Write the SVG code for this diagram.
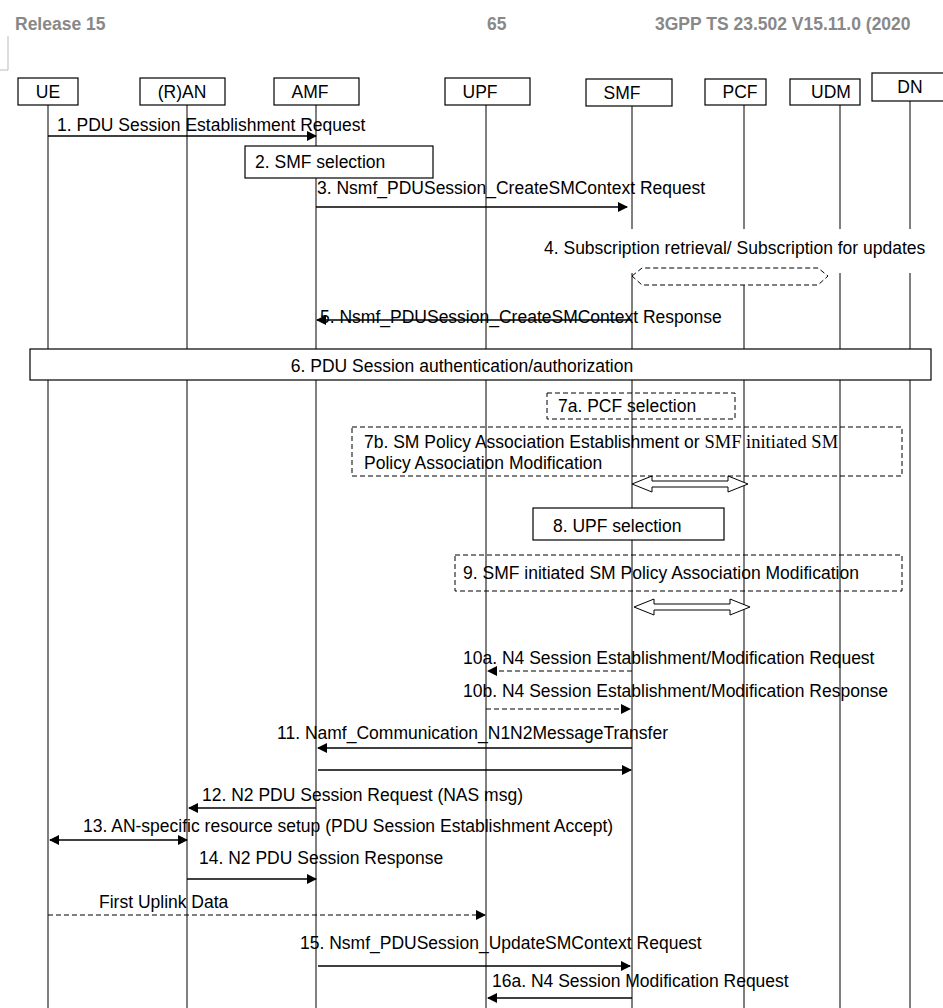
<svg xmlns="http://www.w3.org/2000/svg" width="943" height="1008" viewBox="0 0 943 1008">
<defs>
<marker id="ah" markerWidth="10" markerHeight="10" refX="9" refY="5" orient="auto-start-reverse" markerUnits="userSpaceOnUse"><path d="M0,0 L10,5 L0,10 Z" fill="#000"/></marker>
</defs>
<style>
text{font-family:"Liberation Sans",Arial,sans-serif;font-size:17.5px;fill:#000}
.hd{fill:#888;font-weight:bold;font-size:17.5px}
.ll{stroke:#000;stroke-width:1}
.box{fill:#fff;stroke:#000;stroke-width:1.2}
.dbox{fill:none;stroke:#000;stroke-width:1;stroke-dasharray:5,3}
.m{stroke:#000;stroke-width:1.5;fill:none;marker-end:url(#ah)}
.dm{stroke:#000;stroke-width:1.2;fill:none;stroke-dasharray:5,3;marker-end:url(#ah)}
.da{fill:#fff;stroke:#000;stroke-width:1}
</style>
<rect width="943" height="1008" fill="#fff"/>
<text class="hd" x="15" y="30">Release 15</text>
<text class="hd" x="487" y="30">65</text>
<text class="hd" x="655" y="30">3GPP TS 23.502 V15.11.0 (2020</text>
<path d="M8,36 V70 H0" stroke="#bbb" fill="none"/>
<g id="lifelines">
<line class="ll" x1="48" y1="105" x2="48" y2="1008"/>
<line class="ll" x1="187" y1="105" x2="187" y2="1008"/>
<line class="ll" x1="316" y1="105" x2="316" y2="1008"/>
<line class="ll" x1="486" y1="105" x2="486" y2="1008"/>
<line class="ll" x1="632" y1="105" x2="632" y2="229"/><line class="ll" x1="632" y1="273" x2="632" y2="1008"/>
<line class="ll" x1="744" y1="105" x2="744" y2="229"/><line class="ll" x1="744" y1="285" x2="744" y2="1008"/>
<line class="ll" x1="840" y1="105" x2="840" y2="229"/><line class="ll" x1="840" y1="273" x2="840" y2="1008"/>
<line class="ll" x1="910" y1="101" x2="910" y2="229"/><line class="ll" x1="910" y1="273" x2="910" y2="1008"/>
</g>
<g id="n-ue"><rect class="box" x="18" y="78" width="60" height="27"/><text x="48" y="98" text-anchor="middle">UE</text></g>
<g id="n-ran"><rect class="box" x="140" y="78" width="85" height="27"/><text x="182" y="98" text-anchor="middle">(R)AN</text></g>
<g id="n-amf"><rect class="box" x="274" y="78" width="85" height="27"/><text x="310" y="98" text-anchor="middle">AMF</text></g>
<g id="n-upf"><rect class="box" x="445" y="78" width="85" height="27"/><text x="480" y="98" text-anchor="middle">UPF</text></g>
<g id="n-smf"><rect class="box" x="586" y="79" width="86" height="27"/><text x="622" y="99" text-anchor="middle">SMF</text></g>
<g id="n-pcf"><rect class="box" x="705" y="79" width="61" height="26"/><text x="740" y="98" text-anchor="middle">PCF</text></g>
<g id="n-udm"><rect class="box" x="790" y="79" width="70" height="26"/><text x="831" y="98" text-anchor="middle">UDM</text></g>
<g id="n-dn"><rect class="box" x="872" y="73" width="75" height="28"/><text x="910" y="93" text-anchor="middle">DN</text></g>
<g id="connectors">
<line class="m" x1="48" y1="136" x2="316" y2="136"/>
<text x="57" y="131">1. PDU Session Establishment Request</text>
<line class="m" x1="316" y1="207" x2="627" y2="207"/>
<text x="317" y="194">3. Nsmf_PDUSession_CreateSMContext Request</text>
<text x="544" y="254">4. Subscription retrieval/ Subscription for updates</text>
<path d="M632,276 L642,268 H818 L828,276 L818,285 H642 Z" fill="#fff" stroke="#000" stroke-dasharray="5,3"/>
<line class="m" x1="632" y1="320" x2="317" y2="320"/>
<text x="320" y="323">5. Nsmf_PDUSession_CreateSMContext Response</text>
<path class="da" d="M632,484 L652,476 V481 H728 V476 L748,484 L728,492 V487 H652 V492 Z"/>
<path class="da" d="M634,607 L654,599 V604 H730 V599 L750,607 L730,615 V610 H654 V615 Z"/>
<line class="dm" x1="632" y1="671" x2="488" y2="671"/>
<text x="463" y="664">10a. N4 Session Establishment/Modification Request</text>
<line class="dm" x1="486" y1="709" x2="630" y2="709"/>
<text x="463" y="697">10b. N4 Session Establishment/Modification Response</text>
<line class="m" x1="632" y1="748" x2="318" y2="748"/>
<text x="277" y="739">11. Namf_Communication_N1N2MessageTransfer</text>
<line class="m" x1="318" y1="770" x2="631" y2="770"/>
<line class="m" x1="316" y1="808" x2="189" y2="808"/>
<text x="202" y="801">12. N2 PDU Session Request (NAS msg)</text>
<line class="m" style="marker-start:url(#ah)" x1="50" y1="840" x2="187" y2="840"/>
<text x="83" y="832">13. AN-specific resource setup (PDU Session Establishment Accept)</text>
<line class="m" x1="187" y1="879" x2="316" y2="879"/>
<text x="199" y="864">14. N2 PDU Session Response</text>
<line class="dm" x1="48" y1="915" x2="485" y2="915"/>
<text x="99" y="908">First Uplink Data</text>
<line class="m" x1="318" y1="966" x2="630" y2="966"/>
<text x="300" y="949">15. Nsmf_PDUSession_UpdateSMContext Request</text>
<line class="m" x1="632" y1="998" x2="488" y2="998"/>
<text x="492" y="987">16a. N4 Session Modification Request</text>
</g>
<g id="n-2"><rect class="box" x="245" y="146" width="188" height="32"/><text x="255" y="168">2. SMF selection</text></g>
<g id="n-6"><rect class="box" x="30" y="349" width="901" height="31"/><text x="462" y="372" text-anchor="middle">6. PDU Session authentication/authorization</text></g>
<g id="n-7a"><rect class="dbox" x="547" y="393" width="188" height="26"/><text x="558" y="412">7a. PCF selection</text></g>
<g id="n-7b"><rect class="dbox" x="352" y="427" width="550" height="49"/><text x="364" y="448">7b. SM Policy Association Establishment or <tspan style="font-family:'Liberation Serif',serif;font-size:18.5px">SMF initiated SM</tspan></text><text x="364" y="469">Policy Association Modification</text></g>
<g id="n-8"><rect class="box" x="533" y="508" width="191" height="32"/><text x="553" y="532">8. UPF selection</text></g>
<g id="n-9"><rect class="dbox" x="455" y="555" width="447" height="36"/><text x="463" y="579">9. SMF initiated SM Policy Association Modification</text></g>
</svg>
